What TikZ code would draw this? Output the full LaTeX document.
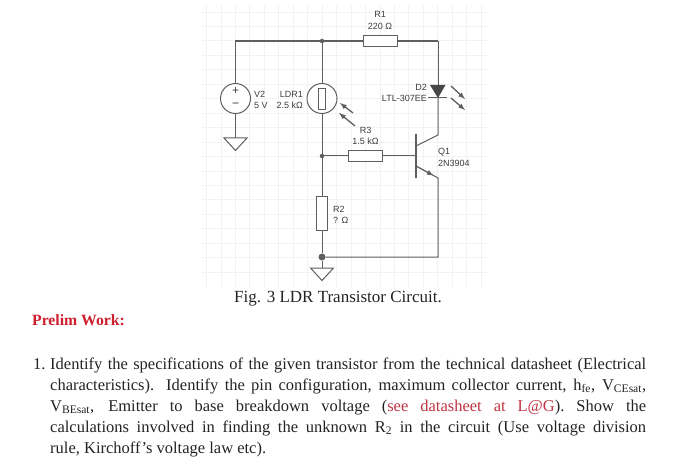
\documentclass[tikz,border=0pt]{standalone}
\usepackage{fontspec}
\setmainfont{Liberation Serif}
\newfontfamily\labelfont{Liberation Sans}
\usetikzlibrary{calc}
\definecolor{wirecol}{RGB}{95,95,95}
\definecolor{gridcol}{RGB}{242,242,242}
\definecolor{labelcol}{RGB}{60,60,60}
\definecolor{prelimred}{RGB}{205,30,45}
\definecolor{linkred}{RGB}{190,50,65}
\definecolor{bodycol}{RGB}{35,35,35}
\tikzset{
  wire/.style={draw=wirecol,line width=1pt},
  mainwire/.style={draw=wirecol,line width=1.6pt},
  hres/.style={draw=wirecol,line width=.9pt,fill=white,minimum width=34pt,minimum height=11pt,inner sep=0pt},
  vres/.style={draw=wirecol,line width=.9pt,fill=white,minimum width=11pt,minimum height=34pt,inner sep=0pt},
  source/.style={circle,draw=wirecol,line width=1pt,fill=white,minimum size=30pt,inner sep=0pt},
  dot/.style={circle,fill=wirecol,inner sep=0pt,minimum size=#1},
  lbl/.style={font=\labelfont\fontsize{9}{9}\selectfont,text=labelcol,inner sep=0pt},
  sign/.style={font=\labelfont\fontsize{12}{12}\selectfont,text=labelcol,inner sep=0pt},
  ray/.style={draw=wirecol,line width=1.3pt,-latex},
  ground/.style={draw=wirecol,line width=1pt,fill=white},
  bodyline/.style={anchor=base west,inner sep=0pt,text=bodycol,font=\fontsize{16.5}{21}\selectfont}
}
\begin{document}
\begin{tikzpicture}[x=1pt,y=-1pt]
  \useasboundingbox (0,0) rectangle (700,470);
  % grid
  \foreach[evaluate={235.5+\i*14.45} as \x] \i in {-2,...,17}
    \draw[gridcol,line width=1pt] (\x,5) -- (\x,287);
  \foreach[evaluate={41+\j*14.45} as \y] \j in {-2,...,16}
    \draw[gridcol,line width=1pt] (202,\y) -- (488,\y);

  % parts
  \node[source] (V2) at (235.5,98.5) {};
  \node[sign] (V2plus) at (235.5,91.5) {+};
  \node[sign] (V2minus) at (235.5,105.5) {\textminus};
  \node[source] (LDR1) at (322,98.5) {};
  \node[draw=wirecol,line width=.9pt,minimum width=7pt,minimum height=21pt,inner sep=0pt] (LDR1body) at (322,98.5) {};
  \node[hres] (R1) at (380,41) {};
  \node[hres] (R3) at (365.5,156) {};
  \node[vres] (R2) at (322,213.5) {};
  \node[dot=4.5pt] (Jtop) at (322,41) {};
  \node[dot=4.5pt] (Jbase) at (322,156) {};
  \node[dot=7pt] (Jgnd) at (322,257) {};

  \coordinate (Cornerl) at (235.5,41);
  \coordinate (Cornerr) at (438,41);
  \coordinate (Dtop) at (438,85);
  \coordinate (Dleft) at (430,85);
  \coordinate (Dright) at (445.5,85);
  \coordinate (Dtip) at (438,98);
  \coordinate (Dbarl) at (428,98);
  \coordinate (Dbarr) at (447,98);
  \coordinate (Qc) at (438,135);
  \coordinate (Qe) at (438,178);
  \coordinate (Qb) at (416,156);
  \coordinate (Qbart) at (416,134);
  \coordinate (Qbarb) at (416,178);
  \coordinate (Qcb) at (416,146);
  \coordinate (Qeb) at (416,166);
  \coordinate (Gndr) at (438,257);

  % wires
  \draw[mainwire] (V2.north) -- (Cornerl) -- (Jtop) -- (R1.west);
  \draw[mainwire] (R1.east) -- (Cornerr);
  \draw[wire] (Cornerr) -- (Dtop);
  \draw[wire] (Dtip) -- (Qc) -- (Qcb);
  \draw[wire] (Jtop) -- (LDR1.north);
  \draw[wire] (LDR1.south) -- (Jbase) -- (R2.north);
  \draw[wire] (R2.south) -- (Jgnd);
  \draw[wire] (Jbase) -- (R3.west);
  \draw[wire] (R3.east) -- (Qb);
  \draw[wire,line width=1.2pt] (Qbart) -- (Qbarb);
  \draw[wire,line width=1.3pt,-latex] (Qeb) -- ($ (Qeb) ! .8 ! (Qe) $);
  \draw[wire] ($ (Qeb) ! .7 ! (Qe) $) -- (Qe) -- (Gndr) -- (Jgnd);

  % led
  \fill[wirecol!75!black] (Dleft) -- (Dright) -- (Dtip) -- cycle;
  \draw[wire] (Dbarl) -- (Dbarr);

  % rays
  \foreach \xa/\ya/\xb/\yb in {451/86/465/99,451/98/465/110,353/113/340/103,355/126/339/113}
    \draw[ray] (\xa,\ya) -- (\xb,\yb);

  % grounds
  \foreach \name/\sx/\sy/\from in {GndV/235.5/138/V2.south,GndR/322/268/Jgnd} {
    \coordinate (\name) at (\sx,\sy);
    \draw[wire] (\from) -- (\name);
    \draw[ground] ($ (\name) + (-11.5,0) $) -- ($ (\name) + (11.5,0) $) -- ($ (\name) + (0,12.5) $) -- cycle;
  }

  % labels
  \node[lbl] (R1name) at (380,14) {R1};
  \node[lbl] (R1val) at (380,26) {220 Ω};
  \node[lbl,anchor=west] (V2name) at (254,94) {V2};
  \node[lbl,anchor=west] (V2val) at (254,105) {5 V};
  \node[lbl,anchor=east] (LDR1name) at (303,94) {LDR1};
  \node[lbl,anchor=east] (LDR1val) at (303,105) {2.5 kΩ};
  \node[lbl,anchor=east] (D2name) at (427,87) {D2};
  \node[lbl,anchor=east] (D2val) at (427,98) {LTL-307EE};
  \node[lbl] (R3name) at (365.5,130) {R3};
  \node[lbl] (R3val) at (365.5,141) {1.5 kΩ};
  \node[lbl,anchor=west] (Q1name) at (438,152) {Q1};
  \node[lbl,anchor=west] (Q1val) at (438,163) {2N3904};
  \node[lbl,anchor=west] (R2name) at (333,209) {R2};
  \node[lbl,anchor=west] (R2val) at (333,220) {? Ω};

  % text
  \node[inner sep=0pt,text=bodycol,font=\fontsize{17}{18}\selectfont] (caption) at (338,298.5) {Fig. 3 LDR Transistor Circuit.};
  \node[bodyline,text=prelimred,font=\fontsize{15.7}{18}\selectfont\bfseries] (prelim) at (32,325) {Prelim Work:};
  \node[bodyline] (num) at (33,369.5) {1.};
  \node[anchor=north west,inner sep=0pt,text width=596pt,align=justify,text=bodycol,font=\fontsize{16.5}{21}\selectfont] (body) at (50,357.5) {Identify the specifications of the given transistor from the technical datasheet (Electrical\linebreak
    characteristics). Identify the pin configuration, maximum collector current, h\textsubscript{fe}, V\textsubscript{CEsat},\linebreak
    V\textsubscript{BEsat}, Emitter to base breakdown voltage ({\color{linkred}see datasheet at L@G}). Show the\linebreak
    calculations involved in finding the unknown R\textsubscript{2} in the circuit (Use voltage division\linebreak
    rule, Kirchoff's voltage law etc).};
\end{tikzpicture}
\end{document}
